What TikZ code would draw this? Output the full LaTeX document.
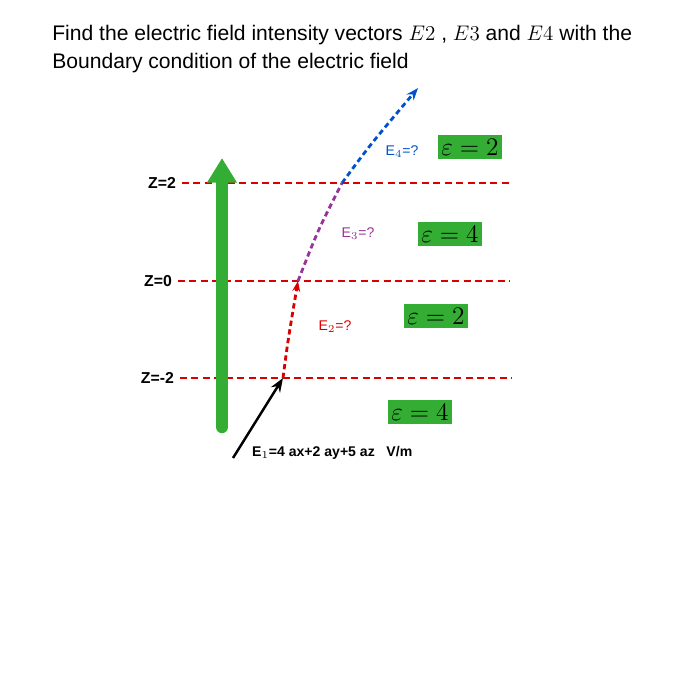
\documentclass[tikz,border=0pt]{standalone}
\usepackage{fontspec}
\setmainfont{Liberation Serif}
\setsansfont{Liberation Sans}
\usetikzlibrary{arrows.meta}
\begin{document}
\begin{tikzpicture}[x=0.02cm,y=-0.02cm,
  zl/.style={red!85!black,dashed,line width=1.6pt,dash pattern=on 4pt off 2.5pt},
  zlab/.style={font=\sffamily\bfseries\small,anchor=east,inner sep=1pt},
  eps/.style={fill=green!60!black!80,text=black,font=\Large,inner sep=2pt,minimum width=1.05cm},
  elab/.style={font=\sffamily\footnotesize},
  fld/.style={dashed,line width=1.6pt,dash pattern=on 3pt off 2pt}]
\useasboundingbox (0,0) rectangle (700,681);
\node[anchor=west,font=\sffamily\large,inner sep=0] (t1) at (52,35) {Find the electric field intensity vectors $E2$ , $E3$ and $E4$ with the};
\node[anchor=west,font=\sffamily\large,inner sep=0] (t2) at (52,63) {Boundary condition of the electric field};
% z lines
\coordinate (a1) at (182,183); \coordinate (a2) at (512,183);
\coordinate (b1) at (178,281); \coordinate (b2) at (510,281);
\coordinate (c1) at (180,378); \coordinate (c2) at (512,378);
\draw[zl] (a1)--(a2); \draw[zl] (b1)--(b2); \draw[zl] (c1)--(c2);
\node[zlab] (z2) at (178,183) {Z=2};
\node[zlab] (z0) at (174,281) {Z=0};
\node[zlab] (zm2) at (176,378) {Z=-2};
% green arrow
\coordinate (g1) at (222,427); \coordinate (g2) at (222,158);
\draw[green!60!black!80,line width=7pt,line cap=round,-{Triangle[length=14pt,width=16pt]}] (g1)--(g2);
% field path
\coordinate (p0) at (233,458); \coordinate (p1) at (283,378);
\coordinate (p2) at (298,281); \coordinate (p3) at (342,183); \coordinate (p4) at (418,88);
\draw[line width=1.4pt,-{Stealth[length=8pt]}] (p0)--(p1);
\draw[fld,red!85!black,-{Stealth[length=6pt]}] (p1) .. controls (288,340) .. (p2);
\draw[fld,violet!80] (p2) .. controls (318,230) .. (p3);
\draw[fld,blue!60!cyan!80!black,-{Stealth[length=7pt]}] (p3) .. controls (370,145) .. (p4);
% labels
\node[elab,text=blue!60!cyan!80!black] (e4) at (402,152) {E$_4$=?};
\node[elab,text=violet!80] (e3) at (358,234) {E$_3$=?};
\node[elab,text=red!85!black] (e2) at (335,327) {E$_2$=?};
\node[elab,font=\sffamily\bfseries\footnotesize,anchor=west] (e1) at (246,453) {E$_1$=4 ax+2 ay+5 az\ \ \ V/m};
\node[eps] (s1) at (470,147) {$\varepsilon=2$};
\node[eps] (s2) at (450,234) {$\varepsilon=4$};
\node[eps] (s3) at (436,316) {$\varepsilon=2$};
\node[eps] (s4) at (420,412) {$\varepsilon=4$};
\end{tikzpicture}
\end{document}
